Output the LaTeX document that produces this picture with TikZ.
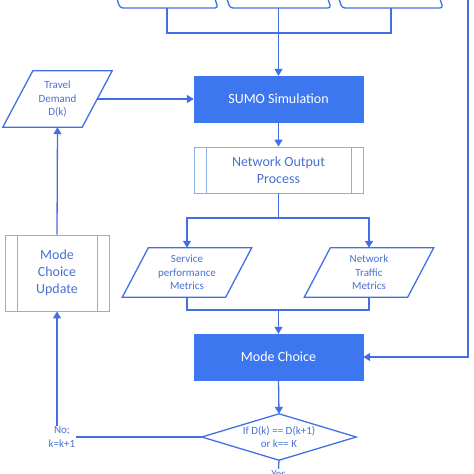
\documentclass[tikz,border=0pt]{standalone}
\usepackage{fontspec}
\setmainfont{Carlito}
\usetikzlibrary{arrows.meta,calc}
\definecolor{boxblue}{RGB}{61,119,240}
\definecolor{lineblue}{RGB}{66,112,228}
\definecolor{txtblue}{RGB}{72,112,212}
\definecolor{lightblue}{RGB}{140,175,225}
\tikzset{
  conn/.style={draw=lineblue,line width=1.3pt},
  arr/.style={conn,-{Triangle[length=7pt,width=8pt]}},
  solidbox/.style={rectangle,fill=boxblue,draw=boxblue,text=white,minimum width=169pt,minimum height=46pt,inner sep=0pt,font=\fontsize{14}{17}\selectfont},
  procbox/.style={rectangle,draw=lightblue,line width=0.9pt,text=txtblue,inner sep=0pt,align=center,font=\fontsize{14}{17}\selectfont},
  parabox/.style={rectangle,draw=none,text=txtblue,inner sep=0pt,align=center,font=\fontsize{11}{13.5}\selectfont},
  lbl/.style={text=txtblue,inner sep=1pt,align=center,font=\fontsize{11}{13.5}\selectfont},
}
\begin{document}
\begin{tikzpicture}[x=1pt,y=-1pt]
\useasboundingbox (0,0) rectangle (474,474);
\clip (0,0) rectangle (474,474);
% top cut-off shapes
\foreach \a/\b in {120/218,230/331,342/443}{
  \draw[conn,rounded corners=3pt] (\a-4,-4) -- (\a,8) -- (\b,8) -- (\b-4,-4);
}
\coordinate (t1) at (167,8);
\coordinate (t2) at (278.5,8);
\coordinate (t3) at (391,8);
\coordinate (j) at (278.5,33);
\coordinate (rtop) at (468,-2);

\node[solidbox] (sumo) at (278.5,99) {SUMO Simulation};
\node[procbox,minimum width=169pt,minimum height=46pt] (nop) at (278.5,170) {Network Output\\Process};
\draw[lightblue,line width=0.9pt] ([xshift=12.5pt]nop.north west) -- ([xshift=12.5pt]nop.south west)
  ([xshift=-12.5pt]nop.north east) -- ([xshift=-12.5pt]nop.south east);

\node[parabox,minimum width=79pt,minimum height=56pt] (td) at (57.5,99) {Travel\\Demand\\D(k)};
\draw[conn] ([xshift=-15pt]td.south west) -- ([xshift=15pt]td.north west) -- ([xshift=15pt]td.north east) -- ([xshift=-15pt]td.south east) -- cycle;

\node[parabox,minimum width=103pt,minimum height=49pt] (serv) at (187,272.5) {Service\\performance\\Metrics};
\draw[conn] ([xshift=-13pt]serv.south west) -- ([xshift=13pt]serv.north west) -- ([xshift=13pt]serv.north east) -- ([xshift=-13pt]serv.south east) -- cycle;
\node[parabox,minimum width=103pt,minimum height=49pt] (traf) at (369,272.5) {Network\\Traffic\\Metrics};
\draw[conn] ([xshift=-13pt]traf.south west) -- ([xshift=13pt]traf.north west) -- ([xshift=13pt]traf.north east) -- ([xshift=-13pt]traf.south east) -- cycle;

\node[solidbox] (mc) at (278.5,357) {Mode Choice};

\node[parabox,minimum width=154pt,minimum height=46pt] (dec) at (279,437) {If D(k) == D(k+1)\\or k== K};
\draw[conn] (dec.west) -- (dec.north) -- (dec.east) -- (dec.south) -- cycle;

\node[procbox,minimum width=104pt,minimum height=76pt] (mcu) at (57,273) {Mode\\Choice\\Update};
\draw[lightblue,line width=0.9pt] ([xshift=13pt]mcu.north west) -- ([xshift=13pt]mcu.south west)
  ([xshift=-12pt]mcu.north east) -- ([xshift=-12pt]mcu.south east);

\node[lbl] (nolab) at (62,437) {No;\\k=k+1};
\node[lbl,anchor=north] (yes) at (278.5,469) {Yes};

\coordinate (split) at (278.5,218);
\coordinate (merge) at (278.5,310);

% connectors
\draw[conn] (t1) |- (j);
\draw[conn] (t3) |- (j);
\draw[arr] (t2) -- (sumo.north);
\draw[arr] (td.east) -- (sumo.west);
\draw[arr] (sumo.south) -- (nop.north);
\draw[conn] (nop.south) -- (split);
\draw[arr] (split) -| (serv.north);
\draw[arr] (split) -| (traf.north);
\draw[conn] (serv.south) |- (merge);
\draw[conn] (traf.south) |- (merge);
\draw[arr] (merge) -- (mc.north);
\draw[arr] (rtop) |- (mc.east);
\draw[arr] (mc.south) -- (dec.north);
\draw[conn] (dec.west) -- (nolab.east);
\draw[arr] (nolab.north -| mcu.south) -- (mcu.south);
\draw[arr] (mcu.north) -- (td.south);
\draw[conn] (dec.south) -- (yes.north);
\end{tikzpicture}
\end{document}
